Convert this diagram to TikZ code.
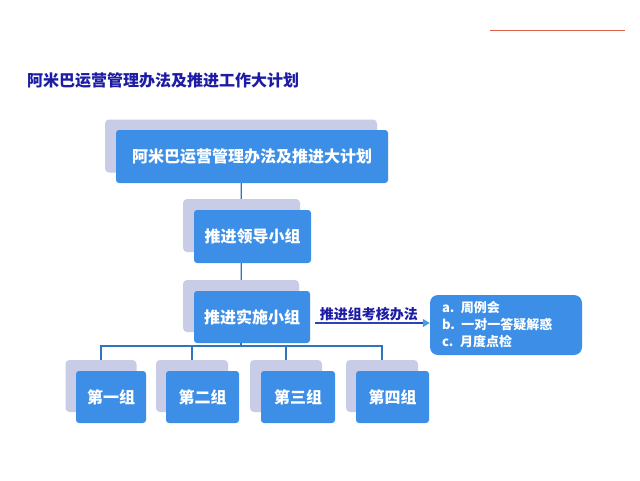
\documentclass[tikz,border=0pt]{standalone}
\usepackage{fontspec}
\setmainfont{Noto Sans CJK SC}
\usetikzlibrary{arrows.meta,backgrounds}
\definecolor{boxblue}{HTML}{3C8EE6}
\definecolor{shade}{HTML}{C8CCE6}
\definecolor{linkblue}{HTML}{2F74C0}
\definecolor{titleblue}{HTML}{1C1CA5}
\definecolor{arrowblue}{HTML}{2A44B8}
\definecolor{tipblue}{HTML}{4A9BE8}
\definecolor{redline}{HTML}{E06050}
\tikzset{
  mainbox/.style={fill=boxblue, rounded corners=3pt, text=white, font=\bfseries\fontsize{16}{18}\selectfont, inner sep=0pt},
  shadowbox/.style={fill=shade, rounded corners=4pt, inner sep=0pt},
  conn/.style={draw=linkblue, line width=1.3pt},
}
\begin{document}
\begin{tikzpicture}[x=1pt,y=-1pt]
\useasboundingbox (0,0) rectangle (640,480);
\draw[redline, line width=0.8pt] (490,30) -- (625,30);
\node[anchor=west, text=titleblue, font=\bfseries\fontsize{16}{18}\selectfont, inner sep=0pt] (title) at (27,80) {阿米巴运营管理办法及推进工作大计划};

% top box
\node[shadowbox, minimum width=272pt, minimum height=53pt] (tops) at (241,146) {};
\node[mainbox, minimum width=272pt, minimum height=53pt] (top) at (252,156.5) {阿米巴运营管理办法及推进大计划};
% leader
\node[shadowbox, minimum width=117pt, minimum height=53pt] (leads) at (241.5,225.5) {};
\node[mainbox, minimum width=117pt, minimum height=53pt] (lead) at (252.5,236.5) {推进领导小组};
% implementation
\node[shadowbox, minimum width=116pt, minimum height=52pt] (impls) at (241,306) {};
\node[mainbox, minimum width=116pt, minimum height=52pt] (impl) at (252,317) {推进实施小组};
% groups
\node[shadowbox, minimum width=71pt, minimum height=52pt] (g1s) at (101,386) {};
\node[mainbox, minimum width=70pt, minimum height=52pt] (g1) at (111,397) {第一组};
\node[shadowbox, minimum width=72pt, minimum height=52pt] (g2s) at (192,386) {};
\node[mainbox, minimum width=73pt, minimum height=52pt] (g2) at (202.5,397) {第二组};
\node[shadowbox, minimum width=72pt, minimum height=52pt] (g3s) at (286,386) {};
\node[mainbox, minimum width=74pt, minimum height=52pt] (g3) at (298,397) {第三组};
\node[shadowbox, minimum width=72pt, minimum height=52pt] (g4s) at (382,386) {};
\node[mainbox, minimum width=73pt, minimum height=52pt] (g4) at (392.5,397) {第四组};
% right box
\node[fill=boxblue, rounded corners=8pt, text=white, font=\bfseries\fontsize{13}{17}\selectfont,
      minimum width=152pt, minimum height=60pt, inner xsep=12pt, inner ysep=0pt, text width=128pt, align=left] (rbox) at (506,325)
  {a. 周例会\\b. 一对一答疑解惑\\c. 月度点检};

\coordinate (bus) at (0,346);
\coordinate (as) at (315,323);
\begin{pgfonlayer}{background}
\fill[white] (0,0) rectangle (640,480);
\draw[conn] (tops.center) -- (leads.center);
\draw[conn] (leads.center) -- (impls.center);
\draw[conn] (impls.center) -- (impls.center |- bus);
\draw[conn] (g1s.center) -- (g1s.center |- bus) -- (g4s.center |- bus) -- (g4s.center);
\draw[conn] (g2s.center) -- (g2s.center |- bus);
\draw[conn] (g3s.center) -- (g3s.center |- bus);
\end{pgfonlayer}
\draw[arrowblue, line width=1.2pt, -{Triangle[length=7pt,width=8pt,color=tipblue]}] (as) -- (as -| rbox.west)
  node[pos=0.47, above, inner sep=1.5pt, text=titleblue, font=\bfseries\fontsize{14}{16}\selectfont] (lbl) {推进组考核办法};
\end{tikzpicture}
\end{document}
